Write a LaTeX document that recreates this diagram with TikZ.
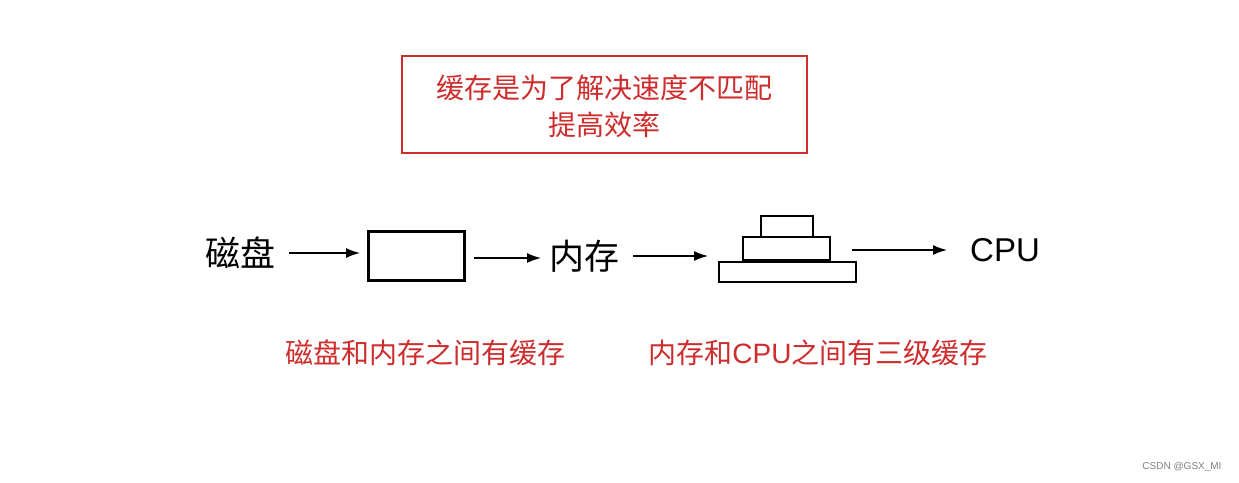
\documentclass[tikz,border=0pt]{standalone}
\usetikzlibrary{arrows.meta}
\usepackage{fontspec}
\setmainfont{Liberation Sans}
\newfontfamily\cjk{Noto Sans CJK SC}
\definecolor{redc}{RGB}{205,45,45}
\begin{document}
\begin{tikzpicture}[x=1pt,y=-1pt,
  arr/.style={-{Latex[length=14pt,width=10pt]},line width=1.4pt},
  bx/.style={draw,line width=1.6pt},
  rt/.style={text=redc,font=\cjk\fontsize{28}{34}\selectfont}]
\useasboundingbox[fill=white] (0,0) rectangle (1239,482);
\draw[redc,line width=1.5pt] (402,56) rectangle (807,153);
\node[text=redc,font=\cjk\fontsize{28}{37}\selectfont,align=center] (t) at (604,106) {缓存是为了解决速度不匹配\\提高效率};
\node[font=\cjk\fontsize{35}{40}\selectfont] (d) at (240,253) {磁盘};
\node[draw,line width=3.5pt,minimum width=96pt,minimum height=49pt] (b1) at (416.5,256) {};
\node[font=\cjk\fontsize{35}{40}\selectfont] (m) at (584,256) {内存};
\draw[bx] (719,262) rectangle (856,282);
\draw[bx] (743,237) rectangle (830,260);
\draw[bx] (761,216) rectangle (813,237);
\coordinate (s1) at (708,256); \coordinate (s0) at (852,250);
\node[font=\fontsize{33}{38}\selectfont] (c) at (1005,250) {CPU};
\draw[arr] (289,253) -- (360,253);
\draw[arr] (474,258) -- (541,258);
\draw[arr] (633,256) -- (s1);
\draw[arr] (s0) -- (947,250);
\node[rt] (l1) at (425,353) {磁盘和内存之间有缓存};
\node[rt] (l2) at (818,353) {内存和\fontspec{Liberation Sans}CPU\cjk 之间有三级缓存};
\node[text=gray,font=\fontsize{10}{12}\selectfont] (w) at (1182,467) {CSDN @GSX\_MI};
\end{tikzpicture}
\end{document}
